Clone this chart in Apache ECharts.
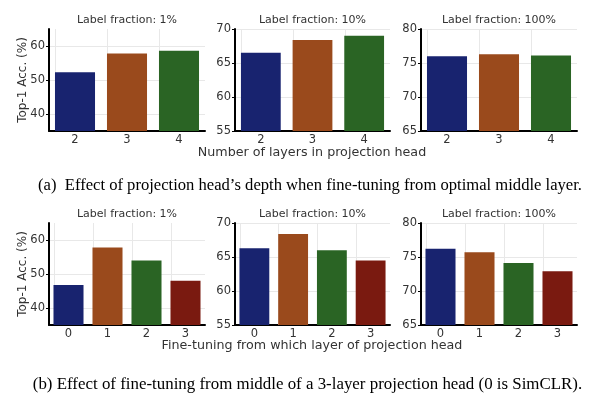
<!DOCTYPE html>
<html>
<head>
<meta charset="utf-8">
<script src="https://cdn.jsdelivr.net/npm/echarts@6/dist/echarts.min.js"></script>
<style>
    html, body {margin: 0; padding: 0; background: #fff;}
    #chart {width: 600px; height: 398px;}
</style>
</head>
<body>
<div id="chart"></div>
<script>
// categories
const depthCats = ['2', '3', '4'];
const layerCats = ['0', '1', '2', '3'];
const fractions = ['1%', '10%', '100%'];

// (a) projection head depth
const depth1 = [52.3, 57.8, 58.6];
const depth10 = [66.5, 68.4, 69.0];
const depth100 = [76.0, 76.3, 76.1];

// (b) fine-tune from layer
const layer1 = [46.8, 57.8, 54.0, 48.0];
const layer10 = [66.3, 68.4, 66.0, 64.5];
const layer100 = [76.2, 75.7, 74.1, 72.9];

// y axis ranges / tick labels per column
const yMins = [35, 55, 65];
const yMaxs = [65, 70, 80];
const yTicks = [[40, 50, 60], [55, 60, 65, 70], [65, 70, 75, 80]];

const barColors = ['#18236f', '#9a4a1c', '#2a6424', '#7a1a10'];

const rows = [
    {cats: depthCats, data: [depth1, depth10, depth100]},
    {cats: layerCats, data: [layer1, layer10, layer100]}
];

// layout
const lefts = [49, 235, 421];
const widths = [156, 155, 156];
const tops = [29, 223];
const gridH = 102;

var chartDom = document.getElementById('chart');
var myChart = echarts.init(chartDom, null, {renderer: 'canvas'});

const grid = [], xAxis = [], yAxis = [], series = [], title = [];
const font = 'DejaVu Sans';

rows.forEach((row, r) => {
    for (let c = 0; c < 3; c++) {
        const idx = grid.length;
        grid.push({left: lefts[c], top: tops[r], width: widths[c], height: gridH});
        xAxis.push({
            type: 'category',
            gridIndex: idx,
            data: row.cats,
            axisLine: {lineStyle: {color: '#000', width: 2}},
            axisTick: {show: false},
            axisLabel: {color: '#333', fontSize: 11.5, fontFamily: font, margin: 3},
            splitLine: {show: false}
        });
        yAxis.push({
            type: 'value',
            gridIndex: idx,
            min: yMins[c],
            max: yMaxs[c],
            axisLine: {show: true, lineStyle: {color: '#000', width: 2}},
            axisTick: {show: true, length: 3, customValues: yTicks[c], lineStyle: {color: '#000', width: 1}},
            axisLabel: {color: '#333', fontSize: 11.5, fontFamily: font, margin: 4, customValues: yTicks[c]},
            splitLine: {show: true, lineStyle: {color: '#e8e8e8', width: 1}},
            name: c === 0 ? 'Top-1 Acc. (%)' : '',
            nameLocation: 'middle',
            nameGap: 20,
            nameMoveOverlap: false,
            nameTextStyle: {color: '#333', fontSize: 12, fontFamily: font}
        });
        // faint vertical grid at category centers, behind the bars
        series.push({
            type: 'bar',
            xAxisIndex: idx,
            yAxisIndex: idx,
            data: [],
            silent: true,
            markLine: {
                z: 1,
                silent: true,
                symbol: 'none',
                label: {show: false},
                lineStyle: {color: '#e8e8e8', width: 1, type: 'solid'},
                data: row.cats.map(v => ({xAxis: v}))
            }
        });
        series.push({
            type: 'bar',
            xAxisIndex: idx,
            yAxisIndex: idx,
            z: 3,
            barWidth: '77%',
            barGap: '-100%',
            data: row.data[c].map((v, i) => ({value: v, itemStyle: {color: barColors[i]}}))
        });
        title.push({
            text: 'Label fraction: ' + fractions[c],
            left: lefts[c] + widths[c] / 2,
            top: tops[r] - 14,
            textAlign: 'center',
            padding: 0,
            textStyle: {color: '#333', fontSize: 11, fontWeight: 'normal', fontFamily: font}
        });
    }
});

title.push({
    text: 'Number of layers in projection head',
    left: 312, top: 146, textAlign: 'center', padding: 0,
    textStyle: {color: '#333', fontSize: 12.7, fontWeight: 'normal', fontFamily: font}
});
title.push({
    text: 'Fine-tuning from which layer of projection head',
    left: 312, top: 339, textAlign: 'center', padding: 0,
    textStyle: {color: '#333', fontSize: 12.7, fontWeight: 'normal', fontFamily: font}
});
title.push({
    text: '(a)  Effect of projection head\u2019s depth when fine-tuning from optimal middle layer.',
    left: 310, top: 177, textAlign: 'center', padding: 0,
    textStyle: {color: '#000', fontSize: 16.6, fontWeight: 'normal', fontFamily: 'Liberation Serif'}
});
title.push({
    text: '(b) Effect of fine-tuning from middle of a 3-layer projection head (0 is SimCLR).',
    left: 307.5, top: 376, textAlign: 'center', padding: 0,
    textStyle: {color: '#000', fontSize: 16.9, fontWeight: 'normal', fontFamily: 'Liberation Serif'}
});

var option = {
    backgroundColor: '#fff',
    animation: false,
    title: title,
    grid: grid,
    xAxis: xAxis,
    yAxis: yAxis,
    series: series
};
option && myChart.setOption(option);
</script>
</body>
</html>
